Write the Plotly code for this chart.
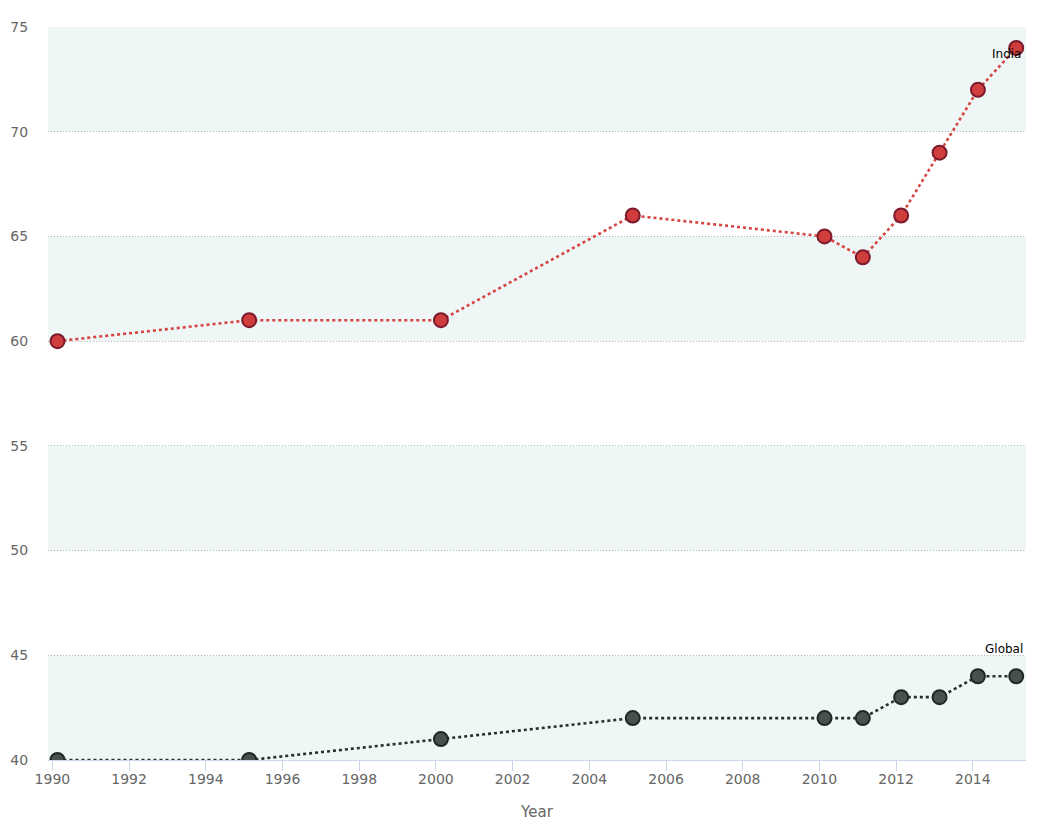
import plotly.graph_objects as go

years = [1990, 1995, 2000, 2005, 2010, 2011, 2012, 2013, 2014, 2015]
dates = [f"{y}-02-18" for y in years]
india = [60, 61, 61, 66, 65, 64, 66, 69, 72, 74]
global_vals = [40, 40, 41, 42, 42, 42, 43, 43, 44, 44]
band_starts = [40, 50, 60, 70]
band_height = 5

FONT = "DejaVu Sans"

fig = go.Figure()
fig.add_trace(go.Scatter(
    x=dates, y=india, mode="lines+markers", name="India",
    line=dict(color="#d64541", width=2.6, dash="dot"),
    marker=dict(size=14, color="#cf3e3c", line=dict(color="#7c1a2d", width=2)),
))
fig.add_trace(go.Scatter(
    x=dates, y=global_vals, mode="lines+markers", name="Global",
    line=dict(color="#2b2f2e", width=2.6, dash="dot"),
    marker=dict(size=14, color="#49514f", line=dict(color="#222625", width=2)),
))

for b in band_starts:
    fig.add_shape(type="rect", xref="paper", x0=0, x1=1, yref="y", y0=b, y1=b + band_height,
                  fillcolor="#eef6f6", line=dict(width=0), layer="below")

fig.add_annotation(x=1, xref="paper", xanchor="right", y=india[-1], yref="y", yshift=-6, xshift=-3,
                   text="India", showarrow=False, font=dict(family=FONT, size=12, color="#000"))
fig.add_annotation(x=1, xref="paper", xanchor="right", y=global_vals[-1], yref="y", yshift=27, xshift=-1,
                   text="Global", showarrow=False, font=dict(family=FONT, size=12, color="#000"))

fig.update_layout(
    width=1032, height=822,
    margin=dict(l=40, r=14, t=19, b=70),
    paper_bgcolor="white", plot_bgcolor="white",
    showlegend=False,
    font=dict(family=FONT, color="#666666"),
    xaxis=dict(
        type="date", range=["1989-11-20", "2015-05-22"],
        dtick="M24", tick0="1990-01-01", tickformat="%Y",
        showgrid=False, zeroline=False, automargin=False,
        showline=True, linecolor="#ccd6eb", linewidth=1,
        ticks="outside", ticklen=10, tickcolor="#ccd6eb",
        ticklabelstandoff=-4,
        tickfont=dict(size=14, color="#666666"),
        title=dict(text="Year", font=dict(size=15, color="#666666"), standoff=20),
    ),
    yaxis=dict(
        range=[40, 75], dtick=5, tick0=40,
        showgrid=True, gridcolor="#b3b3b3", griddash="1px,2px", gridwidth=1,
        zeroline=False, showline=False, automargin=False,
        ticks="outside", ticklen=16, tickcolor="rgba(0,0,0,0)",
        tickfont=dict(size=14, color="#666666"),
    ),
)

fig.write_html("out.html")
